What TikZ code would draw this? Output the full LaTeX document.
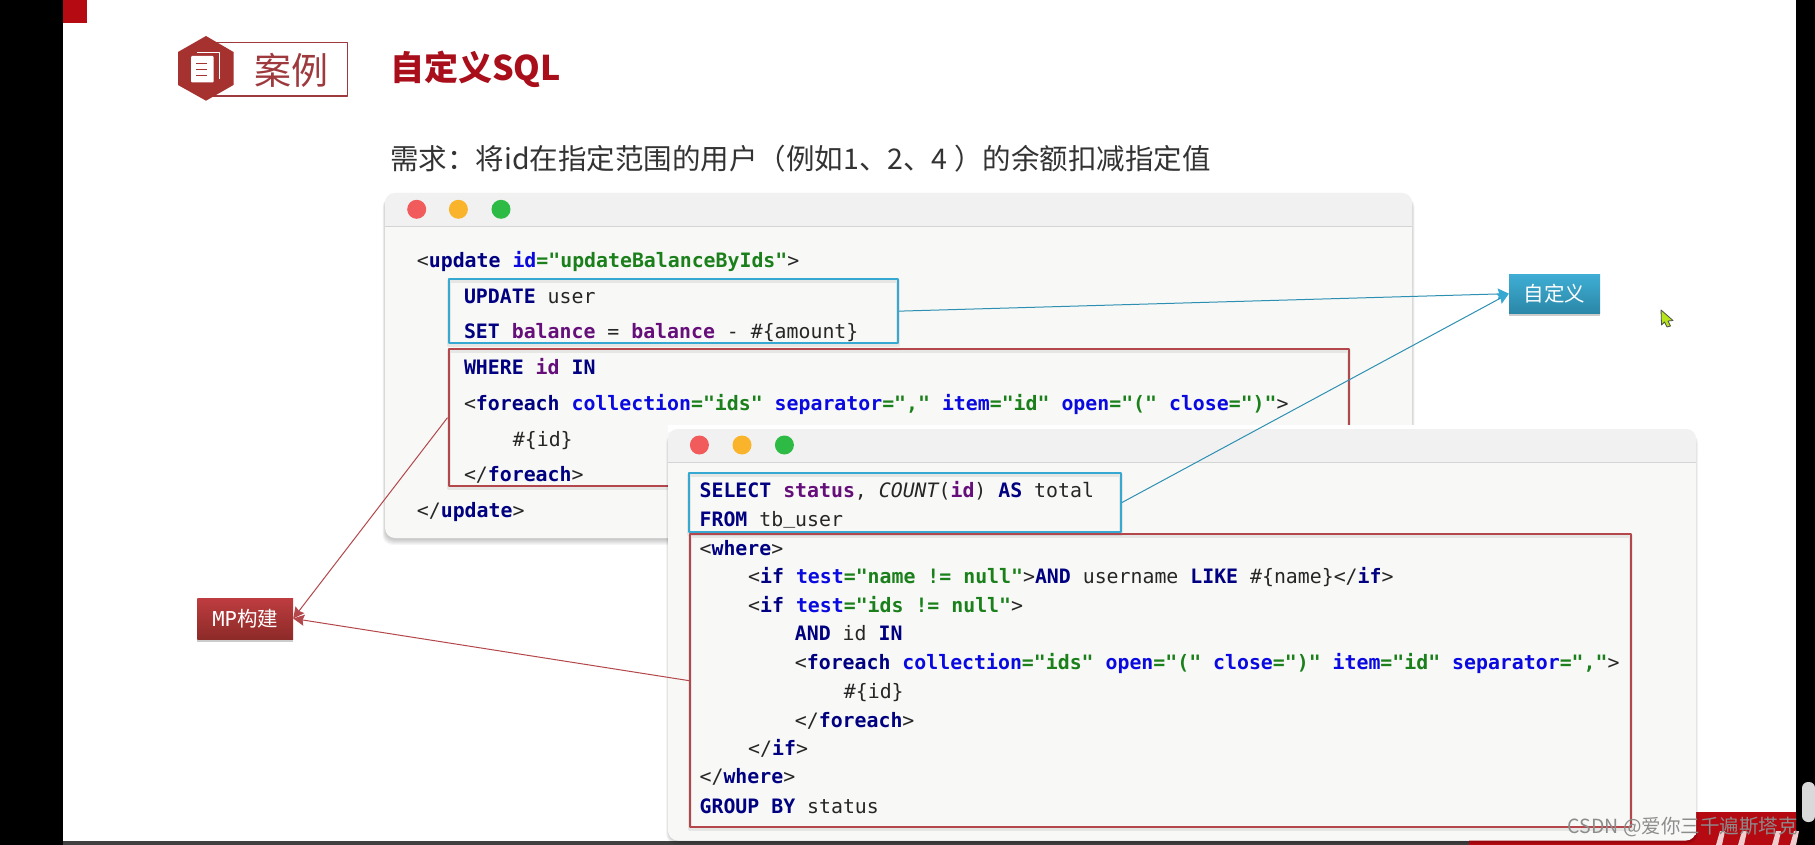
\documentclass[tikz,border=0pt]{standalone}
\usepackage{fontspec}
\usepackage{xcolor}
\usetikzlibrary{arrows.meta,fit}

\newfontfamily\cjk{Noto Sans CJK SC}
\newfontfamily\codefont{DejaVu Sans Mono}

\definecolor{kwnavy}{HTML}{000080}
\definecolor{attrblue}{HTML}{0A0AE0}
\definecolor{strgreen}{HTML}{1B801B}
\definecolor{fldpurple}{HTML}{660E7A}
\definecolor{brick}{HTML}{A5322F}
\definecolor{framered}{HTML}{9E3A3E}
\definecolor{titlered}{HTML}{A80F1B}
\definecolor{boxblue}{HTML}{35A9D2}
\definecolor{boxred}{HTML}{B3474B}
\definecolor{barred}{HTML}{B50A12}
\definecolor{winbody}{HTML}{F8F9F7}
\definecolor{winbar}{HTML}{F1F1F1}

% code colouring
\newcommand{\kwd}[1]{{\bfseries\color{kwnavy}#1}}
\newcommand{\atr}[1]{{\bfseries\color{attrblue}#1}}
\newcommand{\strg}[1]{{\bfseries\color{strgreen}#1}}
\newcommand{\fld}[1]{{\bfseries\color{fldpurple}#1}}

\tikzset{
  codeline/.style={anchor=base west, inner sep=0pt, text=black!85,
    font=\codefont\fontsize{19.85}{24}\selectfont},
  bluebox/.style={draw=boxblue, line width=2pt, inner sep=0pt,
    preaction={draw=black, opacity=.07, line width=4pt, transform canvas={yshift=-2pt}}},
  redbox/.style={draw=boxred, line width=2pt, inner sep=0pt,
    preaction={draw=black, opacity=.07, line width=4pt, transform canvas={yshift=-2pt}}},
  tagbox/.style={text=white, inner sep=0pt, font=\cjk\fontsize{20.5}{24}\selectfont,
    preaction={fill=black, opacity=.2, transform canvas={yshift=-3pt}}},
  bluelink/.style={draw=boxblue!85!black, line width=1pt, ->,
    >={Stealth[length=11pt,width=11pt,inset=1.5pt,color=boxblue]}},
  redlink/.style={draw=boxred, line width=1pt, ->,
    >={Stealth[length=11pt,width=11pt,inset=1.5pt]}},
}

\begin{document}
\begin{tikzpicture}[x=1pt,y=-1pt,line join=round]
\useasboundingbox (0,0) rectangle (1815,845);

% screen edges and slide decoration
\fill[white] (0,0) rectangle (1815,845);
\fill[black] (0,0) rectangle (63,845);
\fill[black] (1796,0) rectangle (1815,845);
\fill[barred] (63,0) rectangle (87,23);
\fill[black!75] (63,841) rectangle (1469,845);
\fill[barred] (1469,835) -- (1696,835) -- (1696,812) -- (1796,812) -- (1796,845) -- (1469,845) -- cycle;
\fill[black!15, rounded corners=6] (1802,782) rectangle (1815,822);
\foreach \sx in {1716,1738,1772,1790}{
  \fill[white!80!barred] (\sx,845) -- ++(4,-14) -- ++(5,0) -- ++(-3,14) -- cycle;
}

% heading badge
\draw[framered, line width=1.5pt, fill=white] (206,42.7) rectangle (347.5,96);
\fill[brick] (206,36) -- (233.5,52) -- (233.5,85) -- (206,100.7) -- (178,85) -- (178,52) -- cycle;
\draw[white, line width=1pt] (197,53) -- (219,53) -- (219,79);
\fill[white, rounded corners=1] (191,56) rectangle (213.5,82.5);
\foreach \ly in {63.3,69.3,75.3}{
  \draw[brick, line width=1.5pt] (196,\ly) -- (207,\ly);
}
\node[inner sep=0pt, text=framered, font=\cjk\fontsize{37}{42}\selectfont] (badge) at (291,70) {案例};
\node[anchor=west, inner sep=0pt, text=titlered, font=\cjk\bfseries\fontsize{34}{40}\selectfont] (title) at (390,69.5) {自定义SQL};
\node[anchor=west, inner sep=0pt, text=black!80, font=\cjk\fontsize{28.5}{32}\selectfont] (need) at (390,159)
  {需求：将id在指定范围的用户（例如1、2、4 ）的余额扣减指定值};

% first window
\foreach \s in {0,...,5}{
  \fill[black, opacity=.035, rounded corners=10] (385-\s/2,197) rectangle (1412+\s/2,540+\s);
}
\fill[winbody, rounded corners=10] (385,193) rectangle (1412,538);
\fill[winbar] (385,226) [rounded corners=10] -- (385,193) -- (1412,193) [sharp corners] -- (1412,226) -- cycle;
\draw[black!17, line width=1.5pt] (385,226.7) -- (1412,226.7);
\foreach \dx/\dc in {416.7/F15B5B,458.4/F9B42B,501/2DBB45}{
  \definecolor{dotc}{HTML}{\dc}
  \fill[dotc] (\dx,209.3) circle (9.5);
}
\node[codeline] (upA) at (416.7,267.5) {<\kwd{update} \atr{id}\strg{="updateBalanceByIds"}>};
\node[codeline] (upB) at (463.8,303.5) {\kwd{UPDATE} user};
\node[codeline] (upC) at (463.8,338.5) {\kwd{SET} \fld{balance} = \fld{balance} - \#\{amount\}};
\node[codeline] (upD) at (463.8,374) {\kwd{WHERE} \fld{id} \kwd{IN}};
\node[codeline] (upE) at (463.8,410) {<\kwd{foreach} \atr{collection}\strg{="ids"} \atr{separator}\strg{=","} \atr{item}\strg{="id"} \atr{open}\strg{="("} \atr{close}\strg{=")"}>};
\node[codeline] (upF) at (512.7,446.5) {\#\{id\}};
\node[codeline] (upG) at (463.8,481) {</\kwd{foreach}>};
\node[codeline] (upH) at (416.7,517.5) {</\kwd{update}>};
\node[bluebox, fit={(448.5,279) (898,343.3)}] (setbox) {};
\node[redbox, fit={(448.5,349.3) (1349,486)}] (wherebox) {};

% second window
\fill[white] (668,425) rectangle (1700,432);
\foreach \s in {0,...,4}{
  \fill[black, opacity=.03, rounded corners=10] (668-\s/2,433) rectangle (1696+\s/2,842+\s/2);
}
\fill[winbody, rounded corners=10] (668,429) rectangle (1696,840.5);
\fill[winbar] (668,462) [rounded corners=10] -- (668,429) -- (1696,429) [sharp corners] -- (1696,462) -- cycle;
\draw[black!17, line width=1.5pt] (668,462.7) -- (1696,462.7);
\foreach \dx/\dc in {699.4/F15B5B,742/F9B42B,784.4/2DBB45}{
  \definecolor{dotc}{HTML}{\dc}
  \fill[dotc] (\dx,445) circle (9.5);
}
\node[codeline] (selA) at (699.4,497.5) {\kwd{SELECT} \fld{status}, {\itshape COUNT}(\fld{id}) \kwd{AS} total};
\node[codeline] (selB) at (699.4,526) {\kwd{FROM} tb\raisebox{2.5pt}{\_}user};
\node[codeline] (selC) at (699.4,555.5) {<\kwd{where}>};
\node[codeline] (selD) at (748,583.5) {<\kwd{if} \atr{test}\strg{="name != null"}>\kwd{AND} username \kwd{LIKE} \#\{name\}</\kwd{if}>};
\node[codeline] (selE) at (748,612.5) {<\kwd{if} \atr{test}\strg{="ids != null"}>};
\node[codeline] (selF) at (794.7,640) {\kwd{AND} id \kwd{IN}};
\node[codeline] (selG) at (794.7,669.5) {<\kwd{foreach} \atr{collection}\strg{="ids"} \atr{open}\strg{="("} \atr{close}\strg{=")"} \atr{item}\strg{="id"} \atr{separator}\strg{=","}>};
\node[codeline] (selH) at (843.7,698.5) {\#\{id\}};
\node[codeline] (selI) at (794.7,727) {</\kwd{foreach}>};
\node[codeline] (selJ) at (748,755) {</\kwd{if}>};
\node[codeline] (selK) at (699.4,783.5) {</\kwd{where}>};
\node[codeline] (selL) at (699.4,813) {\kwd{GROUP} \kwd{BY} status};
\node[bluebox, fit={(688.7,473.3) (1121,531.7)}] (selbox) {};
\node[redbox, fit={(690,534) (1631,827.3)}] (groupbox) {};

% callouts
\node[tagbox, fit={(1509,274) (1600,313.3)}, top color=boxblue!95!white, bottom color=boxblue!80!black] (custom) {};
\node[text=white, inner sep=0pt, font=\cjk\fontsize{20.5}{24}\selectfont] (customtxt) at (custom.center) {自定义};
\node[tagbox, fit={(197.4,598) (293,639)}, top color=boxred!85!red, bottom color=brick!85!black] (mpbuilt) {};
\node[text=white, inner sep=0pt, font=\cjk\fontsize{20.5}{24}\selectfont] (mptxt) at (mpbuilt.center) {{\codefont MP}构建};

\draw[bluelink] (setbox.east) -- (custom.west);
\draw[bluelink] (selbox.east) -- (custom.west);
\draw[redlink] (wherebox.west) -- (mpbuilt.east);
\draw[redlink] (groupbox.west) -- (mpbuilt.east);

% mouse pointer
\definecolor{pointergreen}{HTML}{B5E61D}
\draw[black!70, fill=pointergreen, line width=.8pt] (1661,310) -- (1673,320.5) -- (1668,321) -- (1670.5,326) -- (1667,327) -- (1664.5,322) -- (1661.5,325) -- cycle;

% watermark
\node[anchor=east, inner sep=0pt, text=black!45, font=\cjk\fontsize{19.5}{24}\selectfont] (mark) at (1798,826.5) {CSDN @爱你三千遍斯塔克};

\end{tikzpicture}
\end{document}
